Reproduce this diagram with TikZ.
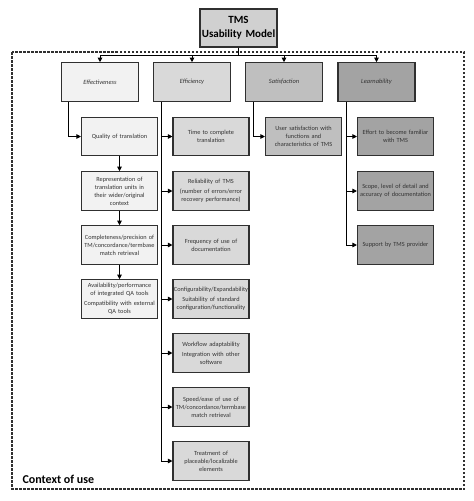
\documentclass[tikz,border=0pt]{standalone}
\usepackage{fontspec}
\setmainfont{Carlito}
\usetikzlibrary{arrows.meta}
\definecolor{cA}{HTML}{F2F2F2}
\definecolor{cB}{HTML}{D9D9D9}
\definecolor{cC}{HTML}{BFBFBF}
\definecolor{cD}{HTML}{A3A3A3}
\definecolor{cT}{HTML}{D0D0D0}
\definecolor{bord}{HTML}{303030}
\definecolor{txt}{HTML}{333333}
\begin{document}
\begin{tikzpicture}[x=1pt,y=-1pt,
  box/.style={draw=bord, line width=1.1pt, minimum width=76pt, minimum height=38.5pt,
    text width=75pt, align=center, inner sep=0.5pt, text=txt,
    font=\fontsize{6.3}{7.9}\selectfont},
  hdr/.style={box, minimum width=77pt, font=\fontsize{6.4}{7.5}\selectfont\itshape},
  conn/.style={draw=black, line width=0.9pt},
  arr/.style={conn, -{Triangle[length=4.5pt,width=4.5pt]}},
  frame/.style={draw=bord, line width=1.1pt, dash pattern=on 2.5pt off 1.5pt}]
\useasboundingbox (0,0) rectangle (474,501);
\draw[frame] (12,52) rectangle (464,489);
\node[box, fill=cT, minimum width=77pt, minimum height=38pt, text width=76pt, inner sep=0.5pt, text=black,
  font=\fontsize{11}{14.5}\selectfont\bfseries] (tms) at (238.5,28) {TMS\\Usability Model};
\node[anchor=west, font=\fontsize{12}{14}\selectfont\bfseries] (ctx) at (19,479.5) {Context of use};
% headers
\node[hdr, fill=cA] (h1) at (100,82) {Effectiveness};
\node[hdr, fill=cB] (h2) at (192,82) {Efficiency};
\node[hdr, fill=cC] (h3) at (284,82) {Satisfaction};
\node[hdr, fill=cD] (h4) at (376.5,82) {Learnability};
% column 1
\node[box, fill=cA] (a1) at (119.5,136.5) {Quality of translation};
\node[box, fill=cA] (a2) at (119.5,191) {Representation of\\translation units in\\their wider/original\\context};
\node[box, fill=cA] (a3) at (119.5,245) {Completeness/precision of TM/concordance/termbase match retrieval};
\node[box, fill=cA] (a4) at (119.5,299) {Availability/performance\\of integrated QA tools\\[2.5pt]Compatibility with external\\QA tools};
% column 2
\node[box, fill=cB] (b1) at (211,136.5) {Time to complete\\translation};
\node[box, fill=cB] (b2) at (211,191) {Reliability of TMS\\[2.5pt](number of errors/error\\recovery performance)};
\node[box, fill=cB] (b3) at (211,245) {Frequency of use of\\documentation};
\node[box, fill=cB] (b4) at (211,299) {Configurability/Expandability\\[2.5pt]Suitability of standard\\configuration/functionality};
\node[box, fill=cB] (b5) at (211,353) {Workflow adaptability\\[2.5pt]Integration with other\\software};
\node[box, fill=cB] (b6) at (211,407) {Speed/ease of use of\\TM/concordance/termbase\\match retrieval};
\node[box, fill=cB] (b7) at (211,461) {Treatment of\\placeable/localizable\\elements};
% column 3
\node[box, fill=cC] (c1) at (303.5,136.5) {User satisfaction with\\functions and\\characteristics of TMS};
% column 4
\node[box, fill=cD] (d1) at (395.5,136.5) {Effort to become familiar\\with TMS};
\node[box, fill=cD] (d2) at (395.5,191) {Scope, level of detail and\\accuracy of documentation};
\node[box, fill=cD] (d3) at (395.5,245) {Support by TMS provider};
% top connectors
\coordinate (bar) at (238.5,55.5);
\draw[conn] (tms.south) -- (bar);
\draw[conn] (h1.north |- bar) -- (h4.north |- bar);
\foreach \h in {h1,h2,h3,h4} \draw[arr] (\h.north |- bar) -- (\h.north);
% spines
\coordinate (v1) at ([xshift=7pt]h1.south west);
\coordinate (v2) at ([xshift=8pt]h2.south west);
\coordinate (v3) at ([xshift=8pt]h3.south west);
\coordinate (v4) at ([xshift=9pt]h4.south west);
\draw[arr] (v1) |- (a1.west);
\draw[arr] (v2) |- (b7.west);
\foreach \b in {b1,b2,b3,b4,b5,b6} \draw[arr] (v2 |- \b.west) -- (\b.west);
\draw[arr] (v3) |- (c1.west);
\draw[arr] (v4) |- (d3.west);
\foreach \b in {d1,d2} \draw[arr] (v4 |- \b.west) -- (\b.west);
% column 1 chain
\draw[arr] (a1) -- (a2);
\draw[arr] (a2) -- (a3);
\draw[arr] (a3) -- (a4);
\end{tikzpicture}
\end{document}
